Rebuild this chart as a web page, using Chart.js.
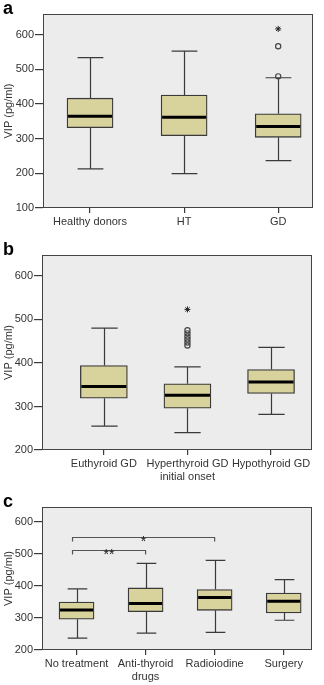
<!DOCTYPE html>
<html>
<head>
<meta charset="utf-8">
<script src="https://cdn.jsdelivr.net/npm/chart.js@4.4.1/dist/chart.umd.min.js"></script>
<style>
    html, body { margin: 0; padding: 0; background: #fff; }
    #wrap { position: relative; width: 324px; height: 685px; }
    canvas { position: absolute; left: 0; }
</style>
</head>
<body>
<div id="wrap">
    <canvas id="chart-a" width="324" height="230" style="top:0px"></canvas>
    <canvas id="chart-b" width="324" height="252" style="top:230px"></canvas>
    <canvas id="chart-c" width="324" height="203" style="top:482px"></canvas>
</div>
<script>
// ---- panel a: VIP by group ----
const catsA = ['Healthy donors', 'HT', 'GD'];
const whiskerLowA = [213, 199, 237];
const q1A = [332, 309, 304];
const medianA = [365, 362, 335];
const q3A = [417, 426, 372];
const whiskerHighA = [534, 553, 476];
const outliersA = [[], [], [480, 567]];
const extremesA = [[], [], [617]];
const yTicksA = [100, 200, 300, 400, 500, 600];

// ---- panel b: GD thyroid function ----
const catsB = ['Euthyroid GD', ['Hyperthyroid GD', 'initial onset'], 'Hypothyroid GD'];
const whiskerLowB = [255, 240, 282];
const q1B = [319, 296, 330];
const medianB = [346, 326, 356];
const q3B = [394, 352, 385];
const whiskerHighB = [480, 391, 436];
const outliersB = [[], [440, 447, 454, 461, 468, 475], []];
const extremesB = [[], [523], []];
const yTicksB = [200, 300, 400, 500, 600];

// ---- panel c: treatment ----
const catsC = ['No treatment', ['Anti-thyroid', 'drugs'], 'Radioiodine', 'Surgery'];
const whiskerLowC = [237, 253, 255, 293];
const q1C = [296, 320, 324, 316];
const medianC = [325, 345, 364, 352];
const q3C = [350, 394, 389, 378];
const whiskerHighC = [391, 471, 480, 420];
const yTicksC = [200, 300, 400, 500, 600];
// significance brackets (category index from / to, height in pg/ml, label)
const sigFrom = [0, 0];
const sigTo = [2, 1];
const sigLevel = [554, 514];
const sigText = ['*', '**'];

const FONT = 'Liberation Sans, Arial, sans-serif';
const TEXT = '#333';
const LINE = '#3a3a3a';

function boxPlot(id, d) {
    const canvas = document.getElementById(id);
    const ctx = canvas.getContext('2d');
    if (!ctx) return;
    const H = canvas.height;

    // 框体
    const boxes = {
        type: 'bar',
        data: d.cats.map((c, i) => ({ x: i + 1, y: [d.q1[i], d.q3[i]] })),
        backgroundColor: '#d8d29c',
        borderColor: LINE,
        borderWidth: 1.3,
        borderSkipped: false,
        barThickness: d.boxPx,
        order: 2
    };
    const outPts = [];
    const extPts = [];
    d.cats.forEach((c, i) => {
        (d.outliers[i] || []).forEach(v => outPts.push({ x: i + 1, y: v }));
        (d.extremes[i] || []).forEach(v => extPts.push({ x: i + 1, y: v }));
    });

    const boxPlugin = {
        id: 'boxparts',
        beforeDraw(chart) {
            const a = chart.chartArea;
            const c = chart.ctx;
            c.save();
            c.fillStyle = '#ececec';
            c.fillRect(a.left, a.top, a.right - a.left, a.bottom - a.top);
            c.restore();
        },
        beforeDatasetsDraw(chart) {
            const x = chart.scales.x, y = chart.scales.y, c = chart.ctx;
            const cap = d.boxPx * 0.28;
            c.save();
            c.strokeStyle = LINE;
            c.lineWidth = 1.2;
            d.cats.forEach((cat, i) => {
                const px = Math.round(x.getPixelForValue(i + 1)) + 0.5;
                const lo = y.getPixelForValue(d.low[i]);
                const hi = y.getPixelForValue(d.high[i]);
                c.beginPath();
                c.moveTo(px, y.getPixelForValue(d.q3[i])); c.lineTo(px, hi);
                c.moveTo(px, y.getPixelForValue(d.q1[i])); c.lineTo(px, lo);
                c.moveTo(px - cap, hi); c.lineTo(px + cap, hi);
                c.moveTo(px - cap, lo); c.lineTo(px + cap, lo);
                c.stroke();
            });
            c.restore();
        },
        afterDatasetsDraw(chart) {
            const x = chart.scales.x, y = chart.scales.y, c = chart.ctx;
            const a = chart.chartArea;
            c.save();
            // 中位数
            c.strokeStyle = '#000';
            c.lineWidth = 3;
            d.cats.forEach((cat, i) => {
                const px = x.getPixelForValue(i + 1);
                const py = y.getPixelForValue(d.median[i]);
                c.beginPath();
                c.moveTo(px - d.boxPx / 2 + 1, py);
                c.lineTo(px + d.boxPx / 2 - 1, py);
                c.stroke();
            });
            // 显著性括号
            if (d.sig) {
                c.strokeStyle = '#555';
                c.lineWidth = 1.2;
                c.fillStyle = '#222';
                c.font = '14px ' + FONT;
                c.textAlign = 'center';
                c.textBaseline = 'alphabetic';
                d.sig.from.forEach((f, k) => {
                    const x1 = x.getPixelForValue(f + 1) - 4;
                    const x2 = x.getPixelForValue(d.sig.to[k] + 1);
                    const py = Math.round(y.getPixelForValue(d.sig.level[k])) + 0.5;
                    c.beginPath();
                    c.moveTo(x1, py + 4); c.lineTo(x1, py); c.lineTo(x2, py); c.lineTo(x2, py + 4);
                    c.stroke();
                    c.fillText(d.sig.text[k], (x1 + x2) / 2, py + 8);
                });
            }
            // 边框
            c.strokeStyle = '#444';
            c.lineWidth = 1;
            c.strokeRect(a.left + 0.5, a.top + 0.5, a.right - a.left - 1, a.bottom - a.top - 1);
            // 面板字母
            c.fillStyle = '#000';
            c.font = 'bold 18px ' + FONT;
            c.textAlign = 'left';
            c.textBaseline = 'alphabetic';
            c.fillText(d.letter, 3, a.top);
            c.restore();
        }
    };

    new Chart(ctx, {
        type: 'bar',
        data: {
            datasets: [
                boxes,
                {
                    type: 'scatter',
                    data: outPts,
                    pointStyle: 'circle',
                    pointRadius: 2.6,
                    borderColor: '#444',
                    borderWidth: 1.2,
                    backgroundColor: 'rgba(0,0,0,0)',
                    order: 1
                },
                {
                    type: 'scatter',
                    data: extPts,
                    pointStyle: 'star',
                    pointRadius: 3,
                    borderColor: '#222',
                    borderWidth: 1,
                    order: 1
                }
            ]
        },
        options: {
            responsive: false,
            animation: false,
            layout: { padding: { top: d.plot.top, right: 324 - d.plot.right, left: 0, bottom: 0 } },
            plugins: { legend: { display: false }, tooltip: { enabled: false } },
            scales: {
                x: {
                    type: 'linear',
                    min: d.xMin,
                    max: d.xMax,
                    offset: false,
                    border: { display: false },
                    grid: { offset: false, drawOnChartArea: false, drawTicks: true, tickLength: 5, color: LINE, lineWidth: 1.2 },
                    afterBuildTicks: s => { s.ticks = d.cats.map((c, i) => ({ value: i + 1 })); },
                    afterFit: s => { s.height = H - d.plot.bottom; },
                    ticks: {
                        autoSkip: false,
                        maxRotation: 0,
                        padding: 2,
                        color: TEXT,
                        font: { family: FONT, size: 11 },
                        callback: (v, i) => d.cats[i]
                    }
                },
                y: {
                    min: d.yMin,
                    max: d.yMax,
                    border: { display: false },
                    grid: { drawOnChartArea: false, drawTicks: true, tickLength: 8, color: LINE, lineWidth: 1.2 },
                    afterBuildTicks: s => { s.ticks = d.yTicks.map(v => ({ value: v })); },
                    afterFit: s => { s.width = d.plot.left; },
                    ticks: {
                        padding: 1,
                        color: TEXT,
                        font: { family: FONT, size: 11 }
                    },
                    title: {
                        display: true,
                        text: 'VIP (pg/ml)',
                        color: TEXT,
                        font: { family: FONT, size: 11 },
                        padding: { top: 2, bottom: 0 }
                    }
                }
            }
        },
        plugins: [boxPlugin]
    });
}

boxPlot('chart-a', {
    letter: 'a', cats: catsA, low: whiskerLowA, q1: q1A, median: medianA, q3: q3A, high: whiskerHighA,
    outliers: outliersA, extremes: extremesA, yTicks: yTicksA,
    yMin: 100, yMax: 660, xMin: 0.5, xMax: 3.37, boxPx: 46,
    plot: { left: 43, right: 313, top: 14, bottom: 208 }
});

boxPlot('chart-b', {
    letter: 'b', cats: catsB, low: whiskerLowB, q1: q1B, median: medianB, q3: q3B, high: whiskerHighB,
    outliers: outliersB, extremes: extremesB, yTicks: yTicksB,
    yMin: 200, yMax: 648, xMin: 0.26, xMax: 3.49, boxPx: 47,
    plot: { left: 42, right: 312, top: 25, bottom: 220 }
});

boxPlot('chart-c', {
    letter: 'c', cats: catsC, low: whiskerLowC, q1: q1C, median: medianC, q3: q3C, high: whiskerHighC,
    outliers: [], extremes: [], yTicks: yTicksC,
    yMin: 200, yMax: 647, xMin: 0.5, xMax: 4.41, boxPx: 35,
    plot: { left: 42, right: 312, top: 25, bottom: 168 },
    sig: { from: sigFrom, to: sigTo, level: sigLevel, text: sigText }
});
</script>
</body>
</html>
